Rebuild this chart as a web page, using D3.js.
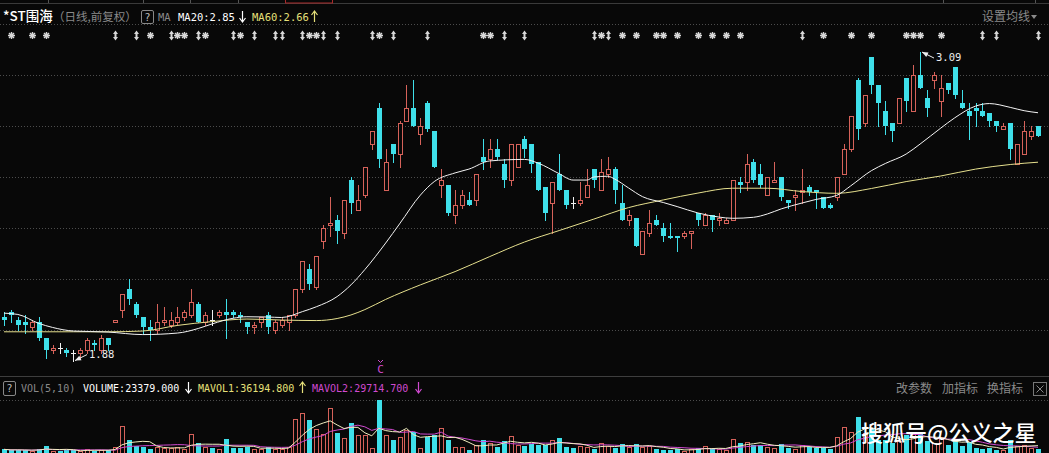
<!DOCTYPE html>
<html>
<head>
<meta charset="UTF-8" />
<title>*ST围海 日线</title>
<script src="https://d3js.org/d3.v7.min.js"></script>
<style>
  html, body { margin: 0; padding: 0; background: #080808; overflow: hidden; }
  svg { display: block; }
  .mono { font-family: "DejaVu Sans Mono", "Liberation Mono", monospace; }
  .cjk { font-family: "Noto Sans CJK SC", "Noto Sans", sans-serif; }
</style>
</head>
<body>
<svg id="chart"></svg>
<script>
// daily bars, index 0 = leftmost visible day
const opens = [
  2.05, 2.07, 2.04, 2.03, 2.01, 2.03, 1.97, 1.92, 1.93, 1.92,
  1.91, 1.91, 1.92, 1.95, 1.92, 1.97, 2.03, 2.08, 2.16, 2.10,
  2.05, 2.01, 2.00, 2.03, 2.02, 2.03, 2.05, 2.06, 2.10, 2.03,
  2.04, 2.06, 2.07, 2.07, 2.06, 2.03, 2.01, 2.03, 2.06, 2.00,
  2.02, 2.03, 2.06, 2.16, 2.24, 2.17, 2.35, 2.41, 2.43, 2.38,
  2.59, 2.47, 2.53, 2.73, 2.87, 2.55, 2.73, 2.69, 2.82, 2.87,
  2.77, 2.89, 2.78, 2.57, 2.57, 2.45, 2.49, 2.51, 2.51, 2.68,
  2.67, 2.71, 2.65, 2.59, 2.64, 2.75, 2.73, 2.66, 2.56, 2.50,
  2.61, 2.55, 2.50, 2.50, 2.52, 2.63, 2.55, 2.61, 2.63, 2.50,
  2.43, 2.44, 2.30, 2.38, 2.43, 2.40, 2.37, 2.37, 2.37, 2.38,
  2.46, 2.41, 2.45, 2.43, 2.42, 2.43, 2.58, 2.58, 2.66, 2.61,
  2.53, 2.58, 2.60, 2.51, 2.52, 2.54, 2.56, 2.55, 2.52, 2.49,
  2.52, 2.61, 2.71, 2.98, 2.81, 3.07, 2.96, 2.86, 2.81, 2.81,
  2.99, 2.86, 3.00, 2.91, 2.98, 2.90, 2.97, 3.03, 2.89, 2.86,
  2.87, 2.86, 2.85, 2.82, 2.79, 2.81, 2.65, 2.69, 2.76, 2.80
];
const highs = [
  2.07, 2.08, 2.05, 2.06, 2.04, 2.05, 1.97, 1.94, 1.95, 1.93,
  1.92, 1.93, 1.97, 1.96, 1.98, 1.97, 2.04, 2.14, 2.20, 2.11,
  2.05, 2.04, 2.10, 2.09, 2.07, 2.09, 2.08, 2.16, 2.11, 2.07,
  2.08, 2.08, 2.12, 2.08, 2.07, 2.03, 2.03, 2.05, 2.07, 2.04,
  2.05, 2.06, 2.16, 2.27, 2.26, 2.29, 2.41, 2.52, 2.45, 2.51,
  2.60, 2.57, 2.64, 2.78, 2.89, 2.71, 2.73, 2.82, 2.96, 2.98,
  2.83, 2.90, 2.78, 2.63, 2.57, 2.55, 2.55, 2.54, 2.61, 2.75,
  2.75, 2.75, 2.67, 2.73, 2.73, 2.76, 2.73, 2.66, 2.56, 2.58,
  2.69, 2.55, 2.52, 2.58, 2.63, 2.63, 2.67, 2.68, 2.64, 2.57,
  2.47, 2.44, 2.39, 2.47, 2.45, 2.42, 2.42, 2.37, 2.39, 2.39,
  2.46, 2.46, 2.45, 2.46, 2.44, 2.59, 2.60, 2.69, 2.67, 2.65,
  2.60, 2.66, 2.60, 2.51, 2.55, 2.63, 2.57, 2.55, 2.52, 2.50,
  2.60, 2.73, 2.84, 2.99, 2.92, 3.07, 2.96, 2.90, 2.81, 2.91,
  2.99, 3.04, 3.09, 2.94, 3.01, 3.00, 2.97, 3.03, 2.94, 2.89,
  2.89, 2.89, 2.85, 2.82, 2.81, 2.81, 2.73, 2.82, 2.80, 2.80
];
const lows = [
  2.02, 2.03, 2.00, 1.99, 2.00, 1.96, 1.89, 1.91, 1.91, 1.90,
  1.88, 1.89, 1.91, 1.92, 1.91, 1.92, 2.03, 2.05, 2.10, 2.05,
  1.99, 1.96, 1.99, 2.02, 2.01, 2.02, 2.04, 2.05, 2.03, 2.02,
  2.02, 2.05, 1.97, 2.05, 2.03, 1.99, 1.99, 2.01, 1.99, 1.99,
  2.01, 2.00, 2.05, 2.15, 2.16, 2.16, 2.32, 2.37, 2.34, 2.36,
  2.46, 2.47, 2.52, 2.71, 2.64, 2.55, 2.66, 2.64, 2.82, 2.80,
  2.73, 2.78, 2.64, 2.52, 2.45, 2.42, 2.48, 2.49, 2.49, 2.63,
  2.64, 2.67, 2.56, 2.57, 2.64, 2.68, 2.62, 2.55, 2.43, 2.38,
  2.55, 2.48, 2.48, 2.49, 2.52, 2.56, 2.55, 2.60, 2.50, 2.43,
  2.41, 2.33, 2.30, 2.37, 2.41, 2.35, 2.36, 2.31, 2.36, 2.32,
  2.41, 2.41, 2.39, 2.41, 2.42, 2.43, 2.54, 2.55, 2.58, 2.56,
  2.53, 2.58, 2.51, 2.48, 2.47, 2.50, 2.53, 2.48, 2.48, 2.48,
  2.51, 2.61, 2.70, 2.75, 2.80, 2.93, 2.80, 2.77, 2.74, 2.81,
  2.86, 2.86, 2.95, 2.84, 2.95, 2.84, 2.93, 2.91, 2.87, 2.75,
  2.80, 2.84, 2.80, 2.78, 2.79, 2.67, 2.65, 2.69, 2.75, 2.76
];
const closes = [
  2.04, 2.06, 2.02, 2.02, 2.03, 1.97, 1.92, 1.93, 1.93, 1.91,
  1.91, 1.92, 1.96, 1.94, 1.97, 1.94, 2.04, 2.14, 2.12, 2.06,
  2.01, 2.00, 2.03, 2.04, 2.04, 2.05, 2.07, 2.11, 2.03, 2.06,
  2.04, 2.07, 2.06, 2.06, 2.05, 2.01, 2.02, 2.05, 2.01, 2.03,
  2.04, 2.06, 2.16, 2.27, 2.18, 2.29, 2.40, 2.42, 2.39, 2.51,
  2.50, 2.51, 2.64, 2.78, 2.67, 2.66, 2.69, 2.81, 2.87, 2.80,
  2.80, 2.79, 2.64, 2.59, 2.46, 2.49, 2.53, 2.49, 2.61, 2.66,
  2.71, 2.68, 2.59, 2.73, 2.73, 2.71, 2.65, 2.55, 2.46, 2.58,
  2.55, 2.49, 2.50, 2.51, 2.57, 2.59, 2.62, 2.63, 2.55, 2.43,
  2.45, 2.33, 2.39, 2.42, 2.41, 2.37, 2.36, 2.36, 2.38, 2.39,
  2.43, 2.45, 2.43, 2.44, 2.43, 2.59, 2.57, 2.65, 2.59, 2.57,
  2.60, 2.59, 2.52, 2.50, 2.53, 2.55, 2.54, 2.54, 2.48, 2.48,
  2.60, 2.71, 2.84, 2.79, 2.92, 2.96, 2.89, 2.80, 2.78, 2.91,
  2.90, 3.00, 2.95, 2.87, 3.00, 2.95, 2.94, 2.92, 2.87, 2.84,
  2.86, 2.84, 2.82, 2.80, 2.80, 2.71, 2.73, 2.78, 2.78, 2.76
];
const volumes = [
  22000, 18000, 20000, 18000, 16000, 25000, 36000, 15000, 14000, 20000,
  18000, 15000, 22000, 17000, 20000, 18000, 30000, 113000, 58000, 35000,
  30000, 23000, 30000, 28000, 27000, 30000, 25000, 80000, 46000, 30000,
  28000, 25000, 62000, 28000, 26000, 30000, 22000, 25000, 30000, 25000,
  24000, 30000, 142000, 165000, 136000, 100000, 80000, 183000, 86000, 66000,
  124000, 78000, 78000, 27000, 214000, 78000, 58000, 71000, 97000, 91000,
  27000, 71000, 78000, 105000, 58000, 32000, 31000, 19000, 39000, 58000,
  47000, 32000, 56000, 74000, 39000, 35000, 43000, 39000, 39000, 58000,
  66000, 31000, 27000, 35000, 31000, 23000, 48000, 35000, 27000, 43000,
  31000, 43000, 31000, 35000, 23000, 19000, 19000, 23000, 16000, 23000,
  27000, 35000, 23000, 23000, 19000, 61000, 48000, 52000, 39000, 39000,
  32000, 27000, 43000, 27000, 23000, 40000, 31000, 27000, 27000, 23000,
  71000, 110000, 90000, 149000, 86000, 100000, 60000, 58000, 45000, 55000,
  78000, 80000, 90000, 55000, 45000, 71000, 40000, 58000, 35000, 50000,
  26000, 25000, 27000, 20000, 18173, 58000, 35000, 39000, 25595, 23379
];

// price moving averages (day index -> value)
const ma20Days = [0, 2, 5, 7, 10, 15, 20, 25, 28, 30, 33, 35, 38, 40, 43, 45, 48, 50, 52, 55,
  57, 60, 62, 65, 67, 70, 75, 77, 80, 82, 84, 85, 87, 88, 90, 92, 95, 97, 100, 103,
  105, 108, 110, 112, 115, 117, 120, 122, 125, 127, 130, 132, 135, 137, 140, 142, 145, 147, 149];
const ma20Vals = [2.066, 2.061, 2.026, 2.010, 1.996, 1.992, 1.982, 1.988, 2.006, 2.024,
  2.046, 2.052, 2.051, 2.049, 2.072, 2.091, 2.131, 2.177, 2.237, 2.341,
  2.416, 2.529, 2.582, 2.616, 2.631, 2.663, 2.669, 2.654, 2.613, 2.588,
  2.588, 2.600, 2.603, 2.592, 2.557, 2.523, 2.500, 2.484, 2.459, 2.443,
  2.438, 2.442, 2.455, 2.475, 2.498, 2.512, 2.528, 2.565, 2.625, 2.653,
  2.690, 2.729, 2.792, 2.832, 2.878, 2.888, 2.873, 2.860, 2.852];
const ma60Days = [0, 10, 15, 20, 25, 30, 35, 40, 45, 48, 50, 52, 55, 60, 65, 70, 75, 80, 85, 90,
  95, 100, 105, 110, 115, 120, 125, 130, 135, 140, 145, 149];
const ma60Vals = [1.993, 1.993, 1.993, 1.996, 2.018, 2.033, 2.043, 2.039, 2.037, 2.045,
  2.059, 2.080, 2.120, 2.177, 2.229, 2.288, 2.345, 2.390, 2.435, 2.480,
  2.510, 2.537, 2.556, 2.556, 2.543, 2.536, 2.555, 2.582, 2.604, 2.631,
  2.649, 2.658];

const gridPrices = [2.0, 2.2, 2.4, 2.6, 2.8, 3.0, 3.2];

// event markers above the candles: a = asterisk, d = double arrow
const markerDays = [1, 4, 6, 16, 19, 21, 24, 25, 26, 28, 29, 33, 34, 36, 39, 40, 43, 44, 45, 46,
  48, 53, 54, 56, 61, 69, 70, 72, 75, 85, 86, 87, 89, 91, 94, 95, 97, 100, 102, 104,
  106, 115, 118, 122, 125, 130, 131, 132, 135, 141, 143, 149];
const markerKinds = 'aaaddadaadadaddddaadddaddaadddadaaaaaaaaadaaaaaaaddd';

const width = 1049, height = 453;
const BG = '#080808', UP = '#d6625a', DOWN = '#3fe0ea', FLAT = '#f2f2f2';
const YELLOW = '#e6e07a', MAGENTA = '#d04ad0';

const svg = d3.select('#chart').attr('width', width).attr('height', height);
svg.append('rect').attr('width', width).attr('height', height).attr('fill', BG);

const days = d3.range(opens.length);
const x = d3.scaleLinear().domain([0, days.length - 1]).range([4, 1038]);
const y = d3.scaleLinear().domain([2.0, 3.0]).range([330, 75]);
const yVol = d3.scaleLinear().domain([0, d3.max(volumes)]).range([455, 400]);
const px = i => Math.round(x(i)) + 0.5;
const isUp = i => closes[i] > opens[i];
const colorOf = i => closes[i] > opens[i] ? UP : (closes[i] < opens[i] ? DOWN : FLAT);

// vertical arrow glyph used next to indicator values
function arrow(g, ax, top, bottom, up, color) {
  const tip = up ? top : bottom, s = up ? 1 : -1;
  g.append('path')
    .attr('d', `M${ax},${top}V${bottom}M${ax - 3},${tip + 4 * s}L${ax},${tip}L${ax + 3},${tip + 4 * s}`)
    .attr('fill', 'none').attr('stroke', color).attr('stroke-width', 1.2);
}

// top strip
svg.append('line').attr('x1', 0).attr('x2', width).attr('y1', 3.5).attr('y2', 3.5).attr('stroke', '#3a3a3a');
svg.append('g').selectAll('line').data([48, 143, 190, 238, 943, 1035]).join('line')
  .attr('x1', d => d + 0.5).attr('x2', d => d + 0.5).attr('y1', 0).attr('y2', 3).attr('stroke', '#555');
svg.append('rect').attr('x', 285.5).attr('y', -2).attr('width', 47).attr('height', 5)
  .attr('fill', 'none').attr('stroke', '#a82a2a');

// grid
svg.append('g').selectAll('line').data(gridPrices).join('line')
  .attr('x1', 0).attr('x2', width)
  .attr('y1', d => Math.round(y(d)) + 0.5).attr('y2', d => Math.round(y(d)) + 0.5)
  .attr('stroke', '#4c4c4c').attr('stroke-dasharray', '1,2');

// header
const head = svg.append('g');
head.append('text').attr('class', 'cjk').attr('x', 3).attr('y', 21).attr('font-size', 13.5)
  .attr('font-weight', 500).attr('fill', '#fff').text('*ST围海');
head.append('text').attr('class', 'cjk').attr('x', 53).attr('y', 21).attr('font-size', 11.5)
  .attr('fill', '#8a8a8a').text('（日线,前复权）');
head.append('rect').attr('x', 141.5).attr('y', 10.5).attr('width', 12).attr('height', 13).attr('rx', 1.5)
  .attr('fill', 'none').attr('stroke', '#888');
head.append('text').attr('class', 'mono').attr('x', 147.5).attr('y', 21).attr('text-anchor', 'middle')
  .attr('font-size', 10.5).attr('fill', '#bbb').text('?');
head.append('text').attr('class', 'mono').attr('x', 158).attr('y', 21).attr('font-size', 10.5)
  .attr('fill', '#8a8a8a').text('MA');
const last20 = ma20Vals[ma20Vals.length - 1], prev20 = ma20Vals[ma20Vals.length - 2];
const last60 = ma60Vals[ma60Vals.length - 1], prev60 = ma60Vals[ma60Vals.length - 2];
head.append('text').attr('class', 'mono').attr('x', 178).attr('y', 21).attr('font-size', 10.5)
  .attr('fill', '#fff').text('MA20:' + last20.toFixed(2));
arrow(head, 242.5, 11, 22, last20 >= prev20, '#fff');
head.append('text').attr('class', 'mono').attr('x', 252).attr('y', 21).attr('font-size', 10.5)
  .attr('fill', YELLOW).text('MA60:' + last60.toFixed(2));
arrow(head, 314.5, 11, 22, last60 >= prev60, YELLOW);
head.append('text').attr('class', 'cjk').attr('x', 982).attr('y', 21).attr('font-size', 12)
  .attr('fill', '#8a8a8a').text('设置均线');
head.append('path').attr('d', 'M1031,15h6l-3,4z').attr('fill', '#8a8a8a');

// event markers
const mk = svg.append('g').selectAll('g').data(markerDays).join('g')
  .attr('transform', d => `translate(${px(d)},35.5)`);
mk.filter((d, k) => markerKinds[k] === 'a').append('path')
  .attr('d', 'M-3.5,0H3.5M0,-3.5V3.5M-2.5,-2.5L2.5,2.5M-2.5,2.5L2.5,-2.5')
  .attr('stroke', '#d8d8d8').attr('stroke-width', 1.4);
mk.filter((d, k) => markerKinds[k] === 'd').append('path')
  .attr('d', 'M0,-5L2.5,-1.5H1V1.5H2.5L0,5L-2.5,1.5H-1V-1.5H-2.5Z')
  .attr('fill', '#d8d8d8');

// candles
const candles = svg.append('g').attr('shape-rendering', 'crispEdges')
  .selectAll('g').data(days).join('g');
const bodyTop = i => Math.round(y(Math.max(opens[i], closes[i])));
const bodyBot = i => Math.round(y(Math.min(opens[i], closes[i])));
candles.append('line')
  .attr('x1', px).attr('x2', px)
  .attr('y1', i => Math.round(y(highs[i]))).attr('y2', bodyTop)
  .attr('stroke', colorOf);
candles.append('line')
  .attr('x1', px).attr('x2', px)
  .attr('y1', bodyBot).attr('y2', i => Math.round(y(lows[i])) + 1)
  .attr('stroke', colorOf);
candles.append('rect')
  .attr('x', i => isUp(i) ? px(i) - 2 : px(i) - 2.5)
  .attr('y', i => isUp(i) ? bodyTop(i) + 0.5 : bodyTop(i))
  .attr('width', i => isUp(i) ? 4 : 5)
  .attr('height', i => Math.max(bodyBot(i) - bodyTop(i), 1))
  .attr('fill', i => isUp(i) ? BG : colorOf(i))
  .attr('stroke', i => isUp(i) ? UP : 'none');

// moving averages
const priceLine = d3.line().x(d => x(d[0])).y(d => y(d[1])).curve(d3.curveMonotoneX);
svg.append('path').datum(d3.zip(ma60Days, ma60Vals)).attr('d', priceLine)
  .attr('fill', 'none').attr('stroke', '#e6e08e').attr('stroke-width', 1);
svg.append('path').datum(d3.zip(ma20Days, ma20Vals)).attr('d', priceLine)
  .attr('fill', 'none').attr('stroke', '#f4f4f4').attr('stroke-width', 1);

// high / low pointers
function pointer(i, price, dx, dy, tx, ty) {
  const tipX = px(i) + 1.5, tipY = y(price);
  const g = svg.append('g');
  g.append('line').attr('x1', tipX + dx).attr('y1', tipY + dy).attr('x2', tipX).attr('y2', tipY)
    .attr('stroke', '#eee');
  const a = Math.atan2(-dy, -dx) * 180 / Math.PI;
  g.append('path').attr('d', 'M0,0L-6,-2.5L-6,2.5Z').attr('fill', '#eee')
    .attr('transform', `translate(${tipX},${tipY}) rotate(${a})`);
  g.append('text').attr('class', 'mono').attr('x', tipX + tx).attr('y', tipY + ty)
    .attr('font-size', 10.5).attr('fill', '#eee').text(price.toFixed(2));
}
const hiIdx = d3.maxIndex(highs), loIdx = d3.minIndex(lows);
pointer(hiIdx, highs[hiIdx], 12, 6, 14, 9);
pointer(loIdx, lows[loIdx], 12, -6, 14, -3);

// "C" tag under the high-volume day
const cx = px(d3.maxIndex(volumes)) + 1;
svg.append('text').attr('class', 'mono').attr('x', cx).attr('y', 373)
  .attr('text-anchor', 'middle').attr('font-size', 11).attr('fill', MAGENTA).text('C');
svg.append('path').attr('d', `M${cx - 2.5},360L${cx},362.5L${cx + 2.5},360`)
  .attr('fill', 'none').attr('stroke', MAGENTA).attr('stroke-width', 1);

// volume panel
svg.append('line').attr('x1', 0).attr('x2', width).attr('y1', 376.5).attr('y2', 376.5).attr('stroke', '#3e3e3e');
svg.append('line').attr('x1', 0).attr('x2', width).attr('y1', 400.5).attr('y2', 400.5)
  .attr('stroke', '#4c4c4c').attr('stroke-dasharray', '1,2');

const vh = svg.append('g');
vh.append('rect').attr('x', 3.5).attr('y', 381.5).attr('width', 12).attr('height', 14).attr('rx', 1.5)
  .attr('fill', 'none').attr('stroke', '#888');
vh.append('text').attr('class', 'mono').attr('x', 9.5).attr('y', 392).attr('text-anchor', 'middle')
  .attr('font-size', 10.5).attr('fill', '#bbb').text('?');
vh.append('text').attr('class', 'mono').attr('x', 21).attr('y', 392).attr('font-size', 10)
  .attr('fill', '#8a8a8a').text('VOL(5,10)');

const n = volumes.length;
const mavol1 = d3.mean(volumes.slice(n - 5)), mavol1Prev = d3.mean(volumes.slice(n - 6, n - 1));
const mavol2 = d3.mean(volumes.slice(n - 10)), mavol2Prev = d3.mean(volumes.slice(n - 11, n - 1));
vh.append('text').attr('class', 'mono').attr('x', 83).attr('y', 392).attr('font-size', 10)
  .attr('fill', '#fff').text('VOLUME:' + volumes[n - 1].toFixed(3));
arrow(vh, 188.5, 382, 393, volumes[n - 1] >= volumes[n - 2], '#fff');
vh.append('text').attr('class', 'mono').attr('x', 198).attr('y', 392).attr('font-size', 10)
  .attr('fill', YELLOW).text('MAVOL1:' + mavol1.toFixed(3));
arrow(vh, 302.5, 382, 393, mavol1 >= mavol1Prev, YELLOW);
vh.append('text').attr('class', 'mono').attr('x', 312).attr('y', 392).attr('font-size', 10)
  .attr('fill', MAGENTA).text('MAVOL2:' + mavol2.toFixed(3));
arrow(vh, 418.5, 382, 393, mavol2 >= mavol2Prev, MAGENTA);
vh.selectAll('text.btn').data([['改参数', 896], ['加指标', 942], ['换指标', 987]]).join('text')
  .attr('class', 'cjk btn').attr('x', d => d[1]).attr('y', 393).attr('font-size', 12)
  .attr('fill', '#8a8a8a').text(d => d[0]);
vh.append('rect').attr('x', 1033.5).attr('y', 382.5).attr('width', 13).attr('height', 13)
  .attr('fill', 'none').attr('stroke', '#777');
vh.append('path').attr('d', 'M1036.5,385.5L1043.5,392.5M1043.5,385.5L1036.5,392.5').attr('stroke', '#888');

svg.append('g').attr('shape-rendering', 'crispEdges')
  .selectAll('rect').data(days).join('rect')
  .attr('x', i => isUp(i) ? px(i) - 2 : px(i) - 2.5)
  .attr('y', i => isUp(i) ? Math.round(yVol(volumes[i])) + 0.5 : Math.round(yVol(volumes[i])))
  .attr('width', i => isUp(i) ? 4 : 5)
  .attr('height', i => 460 - Math.round(yVol(volumes[i])))
  .attr('fill', i => isUp(i) ? BG : DOWN)
  .attr('stroke', i => isUp(i) ? UP : 'none');

const rollMean = (arr, k) => arr.map((v, i) => d3.mean(arr.slice(Math.max(0, i - k + 1), i + 1)));
const volLine = d3.line().x((d, i) => x(i)).y(d => yVol(d));
svg.append('path').datum(rollMean(volumes, 10)).attr('d', volLine)
  .attr('fill', 'none').attr('stroke', MAGENTA).attr('stroke-width', 1);
svg.append('path').datum(rollMean(volumes, 5)).attr('d', volLine)
  .attr('fill', 'none').attr('stroke', '#f0eec0').attr('stroke-width', 1);

// watermark
svg.append('text').attr('class', 'cjk').attr('x', 861).attr('y', 441).attr('font-size', 22)
  .attr('font-weight', 500).attr('fill', '#fff').text('搜狐号@公义之星');
</script>
</body>
</html>
